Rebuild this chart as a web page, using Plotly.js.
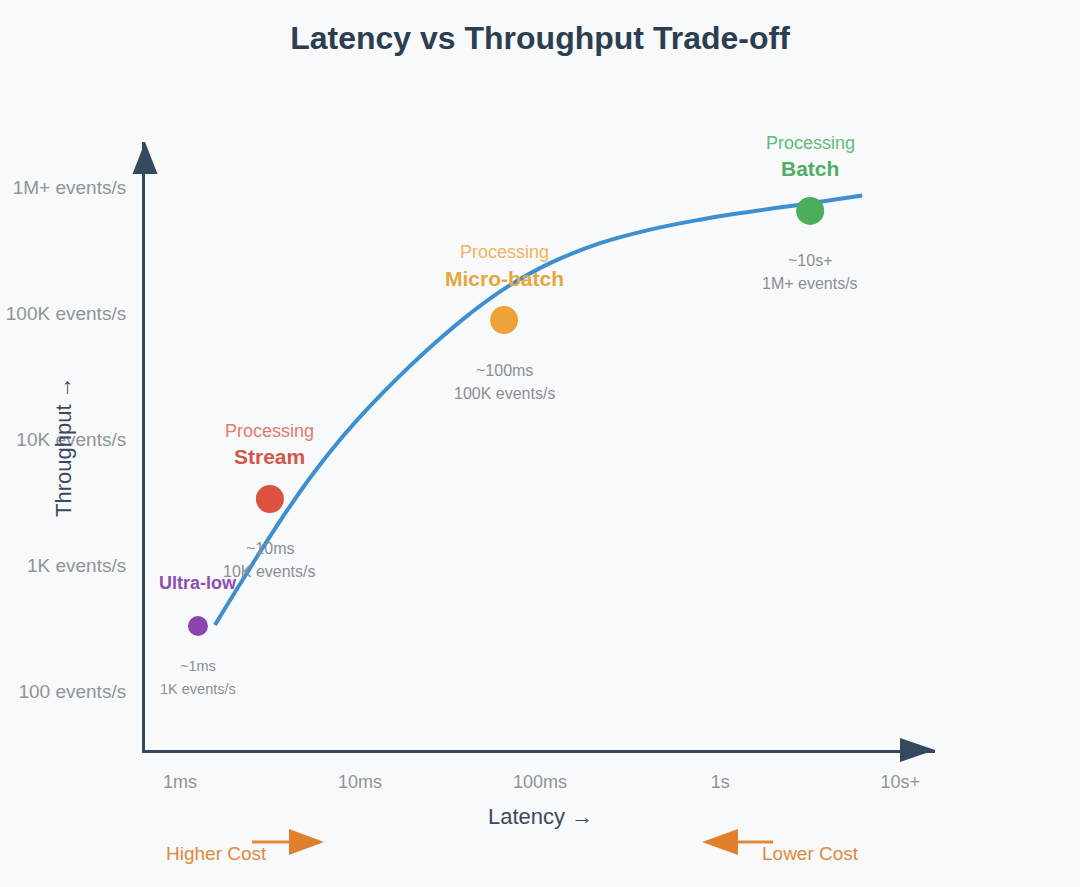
<!DOCTYPE html>
<html>
<head>
<meta charset="utf-8">
<script src="https://cdn.plot.ly/plotly-3.0.1.min.js"></script>
<style>
  html, body { margin: 0; padding: 0; background: #f7f9fb; }
  #chart { width: 1080px; height: 887px; }
</style>
</head>
<body>
<div id="chart"></div>
<script>
// ---- Axis ticks ----
const latencyTickVals = [1, 10, 100, 1000, 10000];           // ms
const latencyTickText = ['1ms', '10ms', '100ms', '1s', '10s+'];
const throughputTickVals = [100, 1000, 10000, 100000, 1000000]; // events/s
const throughputTickText = ['100 events/s', '1K events/s', '10K events/s', '100K events/s', '1M+ events/s'];

// ---- Processing modes (points) ----
const modeNames = ['Ultra-low', 'Stream', 'Micro-batch', 'Batch'];
const modeCategory = ['', 'Processing', 'Processing', 'Processing'];
const modeLatency = [1.26, 3.16, 63.1, 3162];          // ms (position)
const modeThroughput = [328, 3340, 87900, 645600];      // events/s (position)
const modeLatencyText = ['~1ms', '~10ms', '~100ms', '~10s+'];
const modeThroughputText = ['1K events/s', '10K events/s', '100K events/s', '1M+ events/s'];

// ---- Trade-off curve ----
const curveLatency = [1.565, 2.154, 2.967, 4.084, 5.623, 7.743, 11.36, 16.68, 26.10, 40.85, 63.91, 113.6, 215.4, 408.5, 774.3, 1468, 3162, 6150];
const curveThroughput = [334, 703, 1460, 2924, 5542, 9856, 18210, 31860, 57800, 98900, 156800, 248500, 358100, 458300, 550100, 636800, 742400, 855900];

// ---- Bottom cost labels ----
const costLabels = ['Higher Cost', 'Lower Cost'];

// ---- styling ----
const FONT = '"Liberation Sans", Arial, Helvetica, sans-serif';
const modeColor = ['#8e44ad', '#dc5240', '#efa23a', '#4cae5a'];
const modeLabelColor = ['#8e4fb0', '#d2574a', '#e6a640', '#4fae62'];
const modeCatColor = ['#9b59b6', '#e07b6d', '#f0b45c', '#62bb78'];
const modeSize = [20, 28, 28, 28];
const axisColor = '#34495e';
const costColor = '#e0893b';

// layout geometry (pixels in 1080x887 page)
const L = 145, R = 935, T = 142, B = 750;
const W = R - L, H = B - T;
const px = x => (x - L) / W;
const py = y => (B - y) / H;

const traces = [
  {
    type: 'scatter', mode: 'lines',
    x: curveLatency, y: curveThroughput,
    line: { color: '#3d8fcf', width: 4, shape: 'spline', smoothing: 1.2 },
    hoverinfo: 'skip', showlegend: false
  },
  {
    type: 'scatter', mode: 'markers',
    x: modeLatency, y: modeThroughput,
    marker: { color: modeColor, size: modeSize, opacity: 1, line: { width: 0 } },
    opacity: 1,
    text: modeNames, hoverinfo: 'text', showlegend: false
  }
];

const annotations = [];
modeNames.forEach((name, i) => {
  const ax = Math.log10(modeLatency[i]);
  const ay = Math.log10(modeThroughput[i]);
  const small = i === 0;
  if (modeCategory[i]) {
    annotations.push({ xref: 'x', yref: 'y', x: ax, y: ay, text: modeCategory[i], showarrow: false,
      yshift: 68, xanchor: 'center', yanchor: 'middle',
      font: { family: FONT, size: 18, color: modeCatColor[i] } });
  }
  annotations.push({ xref: 'x', yref: 'y', x: ax, y: ay, text: '<b>' + name + '</b>', showarrow: false,
    yshift: small ? 43 : 42, xanchor: 'center', yanchor: 'middle',
    font: { family: FONT, size: small ? 18 : 21, color: modeLabelColor[i] } });
  annotations.push({ xref: 'x', yref: 'y', x: ax, y: ay, text: modeLatencyText[i], showarrow: false,
    yshift: small ? -40 : -50, xanchor: 'center', yanchor: 'middle',
    font: { family: FONT, size: small ? 14.5 : 16, color: '#8a8f94' } });
  annotations.push({ xref: 'x', yref: 'y', x: ax, y: ay, text: modeThroughputText[i], showarrow: false,
    yshift: small ? -63 : -73, xanchor: 'center', yanchor: 'middle',
    font: { family: FONT, size: small ? 14.5 : 16, color: '#8a8f94' } });
});

// axis titles
annotations.push({ xref: 'paper', yref: 'paper', x: px(540), y: py(816), text: 'Latency →', showarrow: false,
  xanchor: 'center', yanchor: 'middle', font: { family: FONT, size: 22, color: '#3a4a5c' } });
annotations.push({ xref: 'paper', yref: 'paper', x: px(63), y: py(447), text: 'Throughput →', showarrow: false,
  textangle: -90, xanchor: 'center', yanchor: 'middle', font: { family: FONT, size: 22, color: '#3a4a5c' } });

// cost labels
annotations.push({ xref: 'paper', yref: 'paper', x: px(216), y: py(853), text: costLabels[0], showarrow: false,
  xanchor: 'center', yanchor: 'middle', font: { family: FONT, size: 19, color: costColor } });
annotations.push({ xref: 'paper', yref: 'paper', x: px(810), y: py(853), text: costLabels[1], showarrow: false,
  xanchor: 'center', yanchor: 'middle', font: { family: FONT, size: 19, color: costColor } });

const tri = (pts) => 'M ' + pts.map(p => px(p[0]) + ',' + py(p[1])).join(' L ') + ' Z';

const shapes = [
  // y-axis arrowhead
  { type: 'path', xref: 'paper', yref: 'paper', path: tri([[L - 12.5, 174], [L, T], [L + 12.5, 174]]),
    fillcolor: axisColor, line: { width: 0 }, layer: 'above' },
  // x-axis arrowhead
  { type: 'path', xref: 'paper', yref: 'paper', path: tri([[900, B - 12], [R, B], [900, B + 12]]),
    fillcolor: axisColor, line: { width: 0 }, layer: 'above' },
  // higher cost arrow
  { type: 'line', xref: 'paper', yref: 'paper', x0: px(252), y0: py(842), x1: px(292), y1: py(842),
    line: { color: costColor, width: 3 } },
  { type: 'path', xref: 'paper', yref: 'paper', path: tri([[289, 829], [324, 842], [289, 855]]),
    fillcolor: '#e07f2c', line: { width: 0 } },
  // lower cost arrow
  { type: 'line', xref: 'paper', yref: 'paper', x0: px(773), y0: py(842), x1: px(735), y1: py(842),
    line: { color: costColor, width: 3 } },
  { type: 'path', xref: 'paper', yref: 'paper', path: tri([[738, 829], [702, 842], [738, 855]]),
    fillcolor: '#e07f2c', line: { width: 0 } }
];

const layout = {
  width: 1080, height: 887,
  paper_bgcolor: '#f7f9fb', plot_bgcolor: '#f7f9fb',
  margin: { l: L, r: 1080 - R, t: T, b: 887 - B, pad: 0 },
  title: { text: '<b>Latency vs Throughput Trade-off</b>', x: 0.5, xref: 'container', xanchor: 'center',
    y: 1 - 38 / 887, yref: 'container', yanchor: 'middle',
    font: { family: FONT, size: 32, color: '#2c3e50' } },
  xaxis: {
    type: 'log', range: [Math.log10(0.64), Math.log10(15600)],
    tickvals: latencyTickVals, ticktext: latencyTickText,
    showgrid: false, zeroline: false, showline: true, linecolor: axisColor, linewidth: 3,
    ticks: '', ticklabelstandoff: 13,
    tickfont: { family: FONT, size: 18, color: '#8f9499' }, fixedrange: true
  },
  yaxis: {
    type: 'log', range: [Math.log10(34), 6.357],
    tickvals: throughputTickVals, ticktext: throughputTickText,
    showgrid: false, zeroline: false, showline: true, linecolor: axisColor, linewidth: 3,
    ticks: '', ticklabelstandoff: 12,
    tickfont: { family: FONT, size: 19, color: '#8f9499' }, fixedrange: true
  },
  showlegend: false,
  annotations: annotations,
  shapes: shapes,
  hovermode: 'closest'
};

Plotly.newPlot('chart', traces, layout, { displayModeBar: false });
</script>
</body>
</html>
